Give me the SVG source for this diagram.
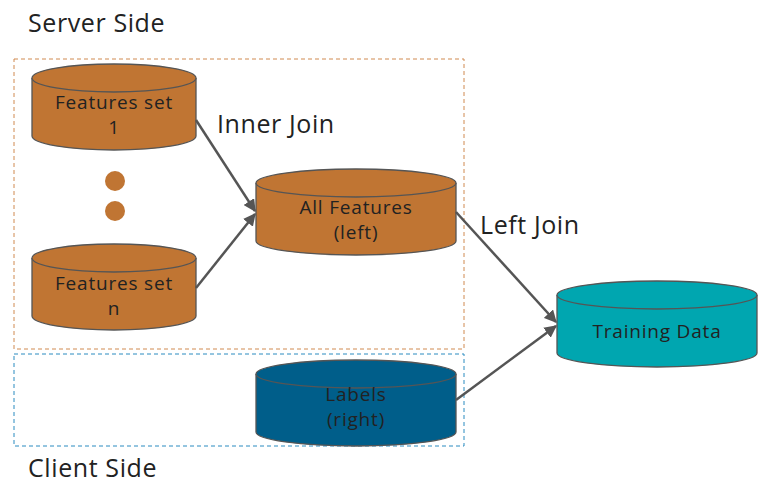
<svg xmlns="http://www.w3.org/2000/svg" width="768" height="498" viewBox="0 0 768 498">
<defs>
<style>
.t{font-family:"Open Sans","Liberation Sans",sans-serif;fill:#222}
.big{font-size:25px;letter-spacing:0.6px}
.lbl{font-size:19px;text-anchor:middle;letter-spacing:0.8px}
.cyl{stroke:#555;stroke-width:1.3}
.or{fill:#C07533}
.te{fill:#00A6B0}
.bl{fill:#005E8A}
.c{stroke:#555;stroke-width:2.5;fill:none;marker-end:url(#ah)}
</style>
<marker id="ah" viewBox="0 0 10 10" refX="9" refY="5" markerWidth="5" markerHeight="5" orient="auto"><path d="M0,0L10,5L0,10z" fill="#555"/></marker>
</defs>
<rect width="768" height="498" fill="#fff"/>
<text class="t big" x="28" y="32">Server Side</text>
<text class="t big" x="28" y="477">Client Side</text>
<rect x="14" y="59" width="450" height="290" fill="none" stroke="#D08A50" stroke-dasharray="4,3"/>
<rect x="14" y="354" width="450" height="92" fill="none" stroke="#2A8BC0" stroke-dasharray="4,3"/>
<g id="fs1"><path class="cyl or" d="M32,78v58a82,14 0 0 0 164,0v-58"/><ellipse class="cyl or" cx="114" cy="78" rx="82" ry="14"/>
<text class="t lbl" x="114" y="109">Features set</text><text class="t lbl" x="114" y="134">1</text></g>
<g id="dots"><circle cx="115" cy="181" r="10" class="or"/><circle cx="115" cy="211" r="10" class="or"/></g>
<g id="fsn"><path class="cyl or" d="M32,258v58a82,14 0 0 0 164,0v-58"/><ellipse class="cyl or" cx="114" cy="258" rx="82" ry="14"/>
<text class="t lbl" x="114" y="290">Features set</text><text class="t lbl" x="114" y="315">n</text></g>
<g id="all"><path class="cyl or" d="M256,183v58a100,14 0 0 0 200,0v-58"/><ellipse class="cyl or" cx="356" cy="183" rx="100" ry="14"/>
<text class="t lbl" x="356" y="214">All Features</text><text class="t lbl" x="356" y="239">(left)</text></g>
<g id="train"><path class="cyl te" d="M557,295v58a100,14 0 0 0 200,0v-58"/><ellipse class="cyl te" cx="657" cy="295" rx="100" ry="14"/>
<text class="t lbl" x="657" y="338">Training Data</text></g>
<g id="labels"><path class="cyl bl" d="M256,374v58a100,14 0 0 0 200,0v-58"/><ellipse class="cyl bl" cx="356" cy="374" rx="100" ry="14"/>
<text class="t lbl" x="356" y="401">Labels</text><text class="t lbl" x="356" y="426">(right)</text></g>
<g id="connectors">
<path class="c" d="M196,120L255,211"/>
<path class="c" d="M196,288L255,214"/>
<path class="c" d="M456,212L556,322"/>
<path class="c" d="M456,400L556,326"/>
<text class="t big" x="217" y="133">Inner Join</text>
<text class="t big" x="480" y="234">Left Join</text>
</g>
</svg>
